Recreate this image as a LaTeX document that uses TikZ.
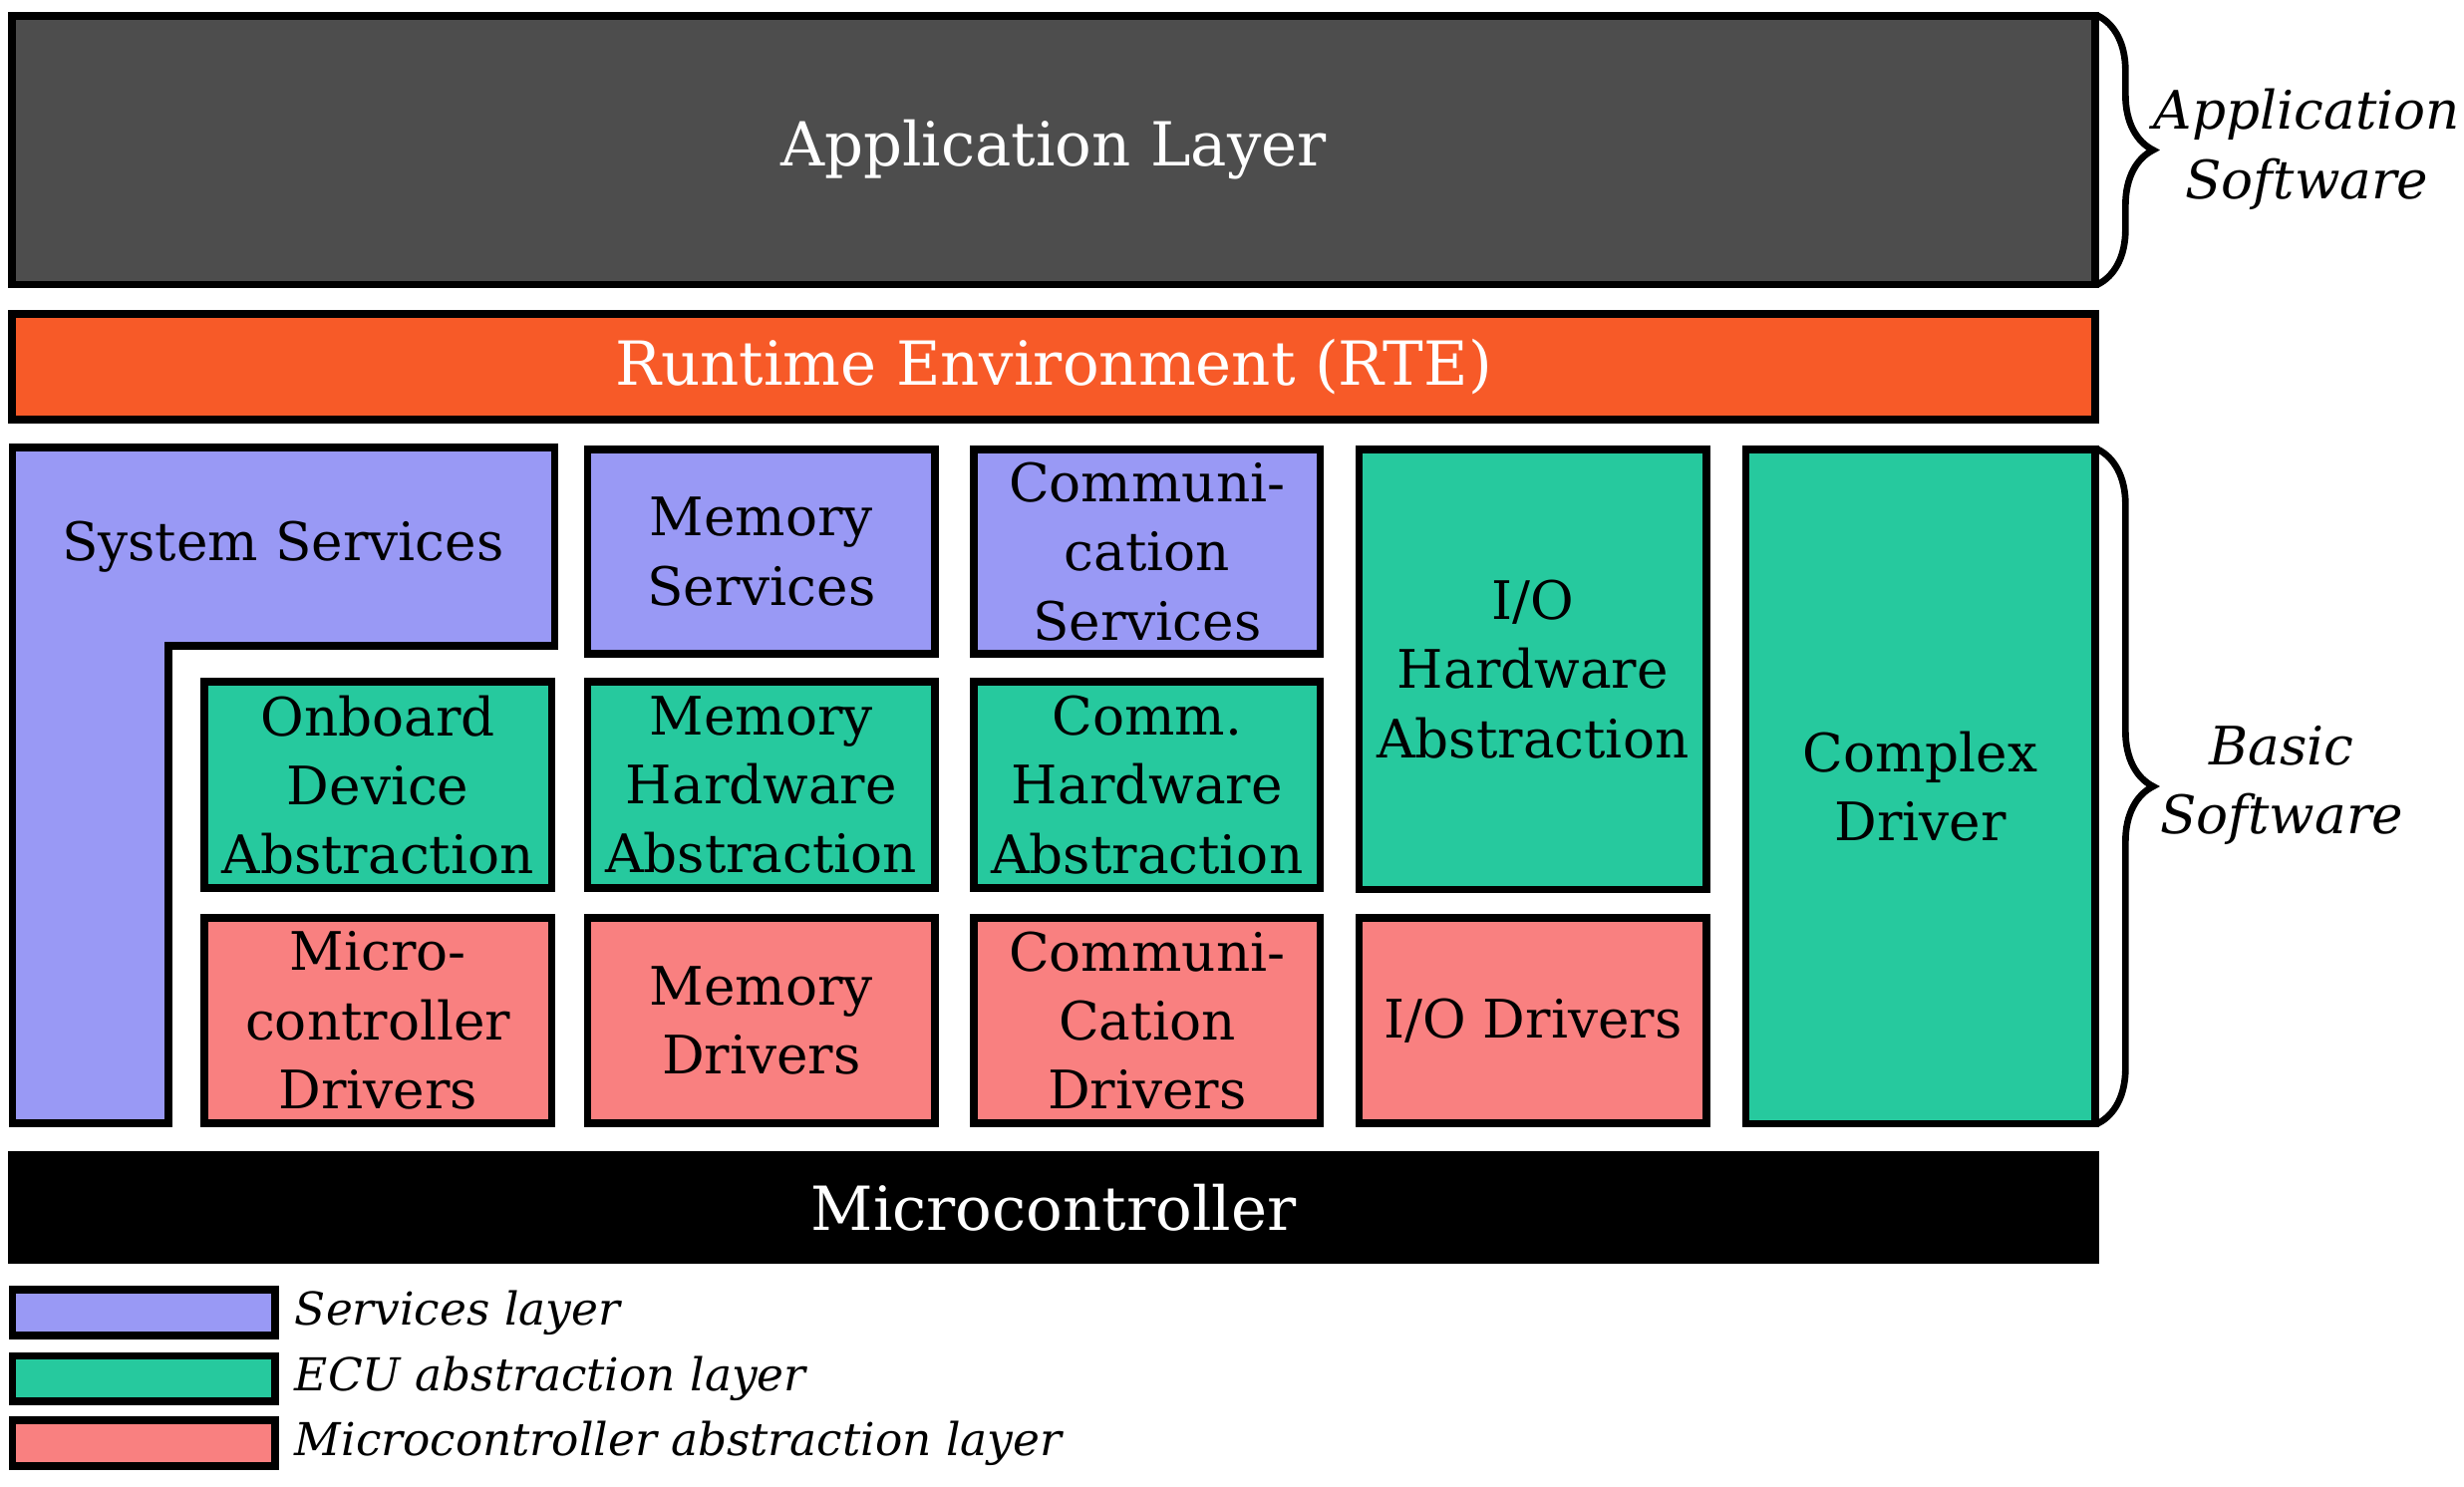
\documentclass[tikz,border=0pt]{standalone}
\usepackage{fontspec}
\setmainfont{DejaVu Serif}
\usetikzlibrary{decorations.pathreplacing,positioning}
\definecolor{appgray}{HTML}{4D4D4D}
\definecolor{rteorange}{HTML}{F75A28}
\definecolor{servblue}{HTML}{9999F5}
\definecolor{ecugreen}{HTML}{26C99E}
\definecolor{mcalred}{HTML}{F98080}
\begin{document}
\begin{tikzpicture}[x=0.01cm,y=-0.01cm,
  box/.style={draw,line width=1.4pt,inner sep=0pt,align=center,font=\fontsize{9.6}{12.5}\selectfont},
  serv/.style={box,fill=servblue},
  ecu/.style={box,fill=ecugreen},
  mcal/.style={box,fill=mcalred},
  legend/.style={draw,line width=1.4pt,minimum width=1.67cm,minimum height=0.29cm,inner sep=0pt},
  legtext/.style={right,font=\fontsize{8.2}{10}\selectfont\itshape,inner sep=0pt},
  brace/.style={decorate,decoration={brace,amplitude=10pt},line width=1.2pt},
  bracetext/.style={align=center,font=\fontsize{9.6}{12.5}\selectfont\itshape}]
\useasboundingbox (0,0) rectangle (1568,946);
% layers
\node[box,fill=appgray,text=white,minimum width=13.25cm,minimum height=1.71cm,font=\fontsize{11}{14}\selectfont] (app) at (670.5,95.5) {Application Layer};
\node[box,fill=rteorange,text=white,minimum width=13.25cm,minimum height=0.67cm,font=\fontsize{11}{14}\selectfont] (rte) at (670.5,233.5) {Runtime Environment (RTE)};
\node[box,fill=black,text=white,minimum width=13.25cm,minimum height=0.67cm,font=\fontsize{11}{14}\selectfont] (mc) at (670.5,768.5) {Microcontroller};
% system services
\draw[line width=1.4pt,fill=servblue] (8,285) -- (353,285) -- (353,411) -- (107,411) -- (107,715) -- (8,715) -- cycle;
\node[box,draw=none] (sys) at (180,348) {System Services};
% services
\node[serv,minimum width=2.21cm,minimum height=1.30cm] (memserv) at (484.5,351) {Memory\\Services};
\node[serv,minimum width=2.20cm,minimum height=1.30cm] (comserv) at (730,351) {Communi-\\cation\\Services};
% ecu abstraction
\node[ecu,minimum width=2.21cm,minimum height=1.31cm] (onboard) at (240.5,499.5) {Onboard\\Device\\Abstraction};
\node[ecu,minimum width=2.21cm,minimum height=1.31cm] (memhw) at (484.5,499.5) {Memory\\Hardware\\Abstraction};
\node[ecu,minimum width=2.20cm,minimum height=1.31cm] (comhw) at (730,499.5) {Comm.\\Hardware\\Abstraction};
\node[ecu,minimum width=2.21cm,minimum height=2.80cm] (iohw) at (975.5,426) {I/O\\Hardware\\Abstraction};
\node[ecu,minimum width=2.22cm,minimum height=4.29cm] (cdd) at (1222,500.5) {Complex\\Driver};
% mcal
\node[mcal,minimum width=2.21cm,minimum height=1.31cm] (mcudrv) at (240.5,649.5) {Micro-\\controller\\Drivers};
\node[mcal,minimum width=2.21cm,minimum height=1.31cm] (memdrv) at (484.5,649.5) {Memory\\Drivers};
\node[mcal,minimum width=2.20cm,minimum height=1.31cm] (comdrv) at (730,649.5) {Communi-\\Cation\\Drivers};
\node[mcal,minimum width=2.21cm,minimum height=1.31cm] (iodrv) at (975.5,649.5) {I/O Drivers};
% braces
\draw[brace] (1335,10) -- (1335,181);
\node[bracetext] (appsw) at (1468,95) {Application\\Software};
\draw[brace] (1335,286) -- (1335,715);
\node[bracetext] (bsw) at (1452,500) {Basic\\Software};
% legend
\node[legend,fill=servblue] (lserv) at (91.5,835.5) {};
\node[legend,fill=ecugreen] (lecu) at (91.5,877.5) {};
\node[legend,fill=mcalred] (lmcal) at (91.5,918.5) {};
\node[legtext] at (187,835.5) {Services layer};
\node[legtext] at (187,877.5) {ECU abstraction layer};
\node[legtext] at (187,918.5) {Microcontroller abstraction layer};
\end{tikzpicture}
\end{document}
